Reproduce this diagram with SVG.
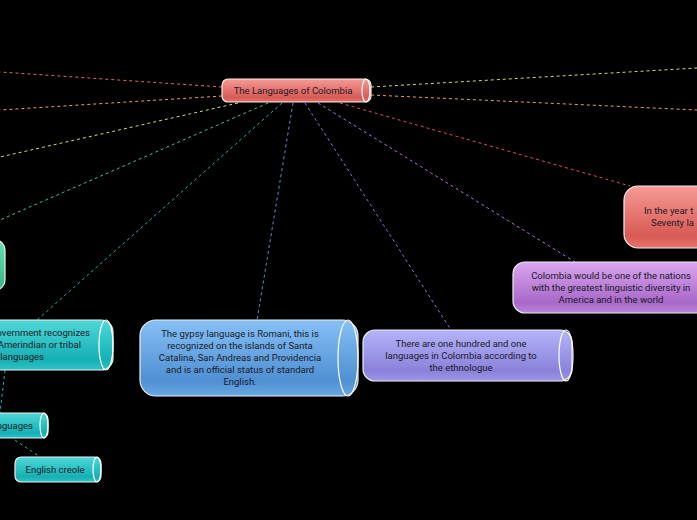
<svg xmlns="http://www.w3.org/2000/svg" width="697" height="520" viewBox="0 0 697 520">
<defs>
<linearGradient id="gR" x1="0" y1="0" x2="0" y2="1"><stop offset="0" stop-color="#f79a95"/><stop offset="0.8" stop-color="#d85a55"/><stop offset="1" stop-color="#e8736e"/></linearGradient>
<linearGradient id="gT" x1="0" y1="0" x2="0" y2="1"><stop offset="0" stop-color="#4fd8d8"/><stop offset="0.8" stop-color="#14b0b4"/><stop offset="1" stop-color="#30c4c6"/></linearGradient>
<linearGradient id="gB" x1="0" y1="0" x2="0" y2="1"><stop offset="0" stop-color="#86c0f6"/><stop offset="0.8" stop-color="#4f8fd2"/><stop offset="1" stop-color="#6aa8e6"/></linearGradient>
<linearGradient id="gL" x1="0" y1="0" x2="0" y2="1"><stop offset="0" stop-color="#b4b4fa"/><stop offset="0.8" stop-color="#8a82da"/><stop offset="1" stop-color="#9c96ea"/></linearGradient>
<linearGradient id="gP" x1="0" y1="0" x2="0" y2="1"><stop offset="0" stop-color="#dba6f0"/><stop offset="0.8" stop-color="#a868c8"/><stop offset="1" stop-color="#bb84dc"/></linearGradient>
<linearGradient id="gG" x1="0" y1="0" x2="0" y2="1"><stop offset="0" stop-color="#6de0b0"/><stop offset="1" stop-color="#2fb884"/></linearGradient>
</defs>
<style>
text{font-family:Roboto,"Liberation Sans",sans-serif;font-size:9.5px;fill:#1a1a2a;text-anchor:middle}
.c{fill:none;stroke-width:1;stroke-dasharray:3,3}
.n{stroke:#eeeeee;stroke-width:1.2}
.e{fill:none;stroke:#ffffff;stroke-width:1.2}
</style>
<rect width="697" height="520" fill="#000"/>
<g id="connectors">
<path class="c" stroke="#e26a5f" d="M222,87 L0,72"/>
<path class="c" stroke="#e8a060" d="M222,96 L0,110"/>
<path class="c" stroke="#d8d870" d="M238,103 L0,157"/>
<path class="c" stroke="#40c080" d="M268,103 L0,220"/>
<path class="c" stroke="#20b0b0" d="M282,103 L37,320"/>
<path class="c" stroke="#5a90d0" d="M293,103 L257,320"/>
<path class="c" stroke="#7a78e0" d="M305,103 L451,330"/>
<path class="c" stroke="#b070d8" d="M318,103 L575,262"/>
<path class="c" stroke="#e05050" d="M340,103 L630,186"/>
<path class="c" stroke="#d8d870" d="M371,87 L697,68"/>
<path class="c" stroke="#e8a060" d="M371,95 L697,110"/>
<path class="c" stroke="#20b0b0" d="M5,370 L0,413"/>
<path class="c" stroke="#20b0b0" d="M15,440 L40,457"/>
</g>
<g id="central">
<rect class="n" x="222" y="79" width="149" height="23" rx="6" fill="url(#gR)"/>
<ellipse class="e" cx="366" cy="90.5" rx="4" ry="11.5"/>
<text x="293" y="94">The Languages of Colombia</text>
</g>
<g id="green"><rect class="n" x="-40" y="240" width="45" height="50" rx="10" fill="url(#gG)"/></g>
<g id="gov">
<rect class="n" x="-60" y="320" width="173" height="50" rx="12" fill="url(#gT)"/>
<ellipse class="e" cx="106" cy="345" rx="7" ry="25"/>
<text x="90" y="336" style="text-anchor:end">The government recognizes</text>
<text x="81" y="348" style="text-anchor:end">the Amerindian or tribal</text>
<text x="44" y="360" style="text-anchor:end">languages</text>
</g>
<g id="languages">
<rect class="n" x="-40" y="413" width="88" height="25" rx="6" fill="url(#gT)"/>
<ellipse class="e" cx="44" cy="425.5" rx="4" ry="12.5"/>
<text x="33" y="429" style="text-anchor:end">Languages</text>
</g>
<g id="creole">
<rect class="n" x="15" y="457" width="86" height="25" rx="6" fill="url(#gT)"/>
<ellipse class="e" cx="97" cy="469.5" rx="4" ry="12.5"/>
<text x="55" y="473">English creole</text>
</g>
<g id="romani">
<rect class="n" x="140" y="320" width="218" height="76" rx="16" fill="url(#gB)"/>
<ellipse class="e" cx="348" cy="358" rx="10" ry="38"/>
<text x="240" y="337">The gypsy language is Romani, this is</text>
<text x="240" y="349">recognized on the islands of Santa</text>
<text x="240" y="361">Catalina, San Andreas and Providencia</text>
<text x="240" y="373">and is an official status of standard</text>
<text x="240" y="385">English.</text>
</g>
<g id="ethno">
<rect class="n" x="363" y="330" width="209" height="51" rx="12" fill="url(#gL)"/>
<ellipse class="e" cx="566" cy="355.5" rx="7" ry="25.5"/>
<text x="461" y="347">There are one hundred and one</text>
<text x="461" y="359">languages in Colombia according to</text>
<text x="461" y="371">the ethnologue</text>
</g>
<g id="diversity">
<rect class="n" x="513" y="262" width="220" height="51" rx="12" fill="url(#gP)"/>
<text x="611" y="279">Colombia would be one of the nations</text>
<text x="611" y="291">with the greatest linguistic diversity in</text>
<text x="611" y="303">America and in the world</text>
</g>
<g id="year">
<rect class="n" x="624" y="186" width="120" height="62" rx="14" fill="url(#gR)"/>
<text x="644" y="214" style="text-anchor:start">In the year t</text>
<text x="651" y="226" style="text-anchor:start">Seventy la</text>
</g>
</svg>
